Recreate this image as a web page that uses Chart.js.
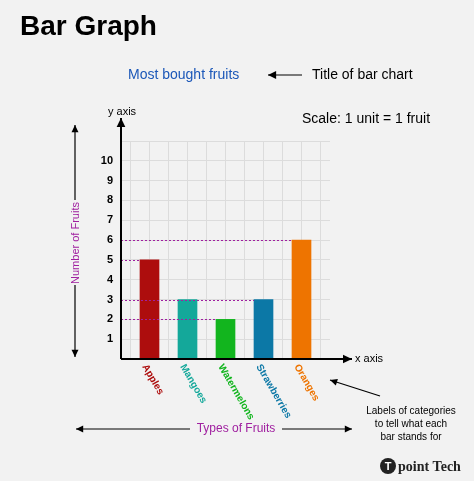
<!DOCTYPE html>
<html><head><meta charset="utf-8">
<script src="https://cdn.jsdelivr.net/npm/chart.js@4"></script>
<style>body{margin:0;background:#f2f2f2}#wrap{width:474px;height:481px;position:relative}</style>
</head><body><div id="wrap"><canvas id="c"></canvas></div>
<script>
const fruits = ['Apples', 'Mangoes', 'Watermelons', 'Strawberries', 'Oranges']
const counts = [5, 3, 2, 3, 6]
const slots = [1.5, 3.5, 5.5, 7.5, 9.5]
const colors = ['#ad0d0d', '#14a89a', '#12b51e', '#0c78a6', '#ee7400']
const yTicks = [1, 2, 3, 4, 5, 6, 7, 8, 9, 10]
const purple = '#a020a0'

function arrow(ctx, x1, y1, x2, y2, s) {
    const a = Math.atan2(y2 - y1, x2 - x1)
    ctx.beginPath(); ctx.moveTo(x1, y1); ctx.lineTo(x2, y2); ctx.stroke()
    ctx.beginPath(); ctx.moveTo(x2, y2)
    ctx.lineTo(x2 - s * Math.cos(a - 0.45), y2 - s * Math.sin(a - 0.45))
    ctx.lineTo(x2 - s * Math.cos(a + 0.45), y2 - s * Math.sin(a + 0.45))
    ctx.closePath(); ctx.fill()
}

const decor = {
    id: 'decor',
    afterDraw(chart) {
        const ctx = chart.ctx, x = chart.scales.x, y = chart.scales.y
        const a = chart.chartArea
        ctx.save()
        // dashed guides
        ctx.strokeStyle = purple; ctx.setLineDash([2, 2]); ctx.lineWidth = 1
        counts.forEach((v, i) => {
            const py = Math.round(y.getPixelForValue(v)) + 0.5
            ctx.beginPath(); ctx.moveTo(a.left, py); ctx.lineTo(x.getPixelForValue(slots[i]) - 9.5, py); ctx.stroke()
        })
        ctx.setLineDash([])
        // axes
        ctx.fillStyle = '#000'; ctx.strokeStyle = '#000'; ctx.lineWidth = 2
        arrow(ctx, a.left, a.bottom, a.left, 118, 10)
        arrow(ctx, a.left, a.bottom, 352, a.bottom, 10)
        ctx.font = 'bold 11px Arial'; ctx.textAlign = 'right'; ctx.textBaseline = 'middle'
        yTicks.forEach(t => ctx.fillText(t, a.left - 8, y.getPixelForValue(t)))
        ctx.textAlign = 'left'
        ctx.font = '11px Arial'
        ctx.fillText('y axis', 108, 112)
        ctx.fillText('x axis', 355, a.bottom)
        // category labels
        ctx.font = 'bold 10px Arial'
        fruits.forEach((f, i) => {
            ctx.save(); ctx.translate(x.getPixelForValue(slots[i]) - 5, a.bottom + 6)
            ctx.rotate(Math.PI / 3); ctx.fillStyle = colors[i]; ctx.fillText(f, 0, 0); ctx.restore()
        })
        // titles
        ctx.fillStyle = '#000'; ctx.font = 'bold 28px Arial'; ctx.textBaseline = 'alphabetic'
        ctx.fillText('Bar Graph', 20, 35)
        ctx.font = '14px Arial'; ctx.textBaseline = 'middle'
        ctx.fillStyle = '#1b57b8'; ctx.fillText('Most bought fruits', 128, 75)
        ctx.fillStyle = '#000'; ctx.fillText('Title of bar chart', 312, 75)
        ctx.fillText('Scale: 1 unit = 1 fruit', 302, 119)
        ctx.lineWidth = 1.2
        arrow(ctx, 302, 75, 268, 75, 9)
        // left side arrow
        arrow(ctx, 75, 200, 75, 125, 8); arrow(ctx, 75, 285, 75, 357, 8)
        ctx.save(); ctx.translate(76, 243); ctx.rotate(-Math.PI / 2)
        ctx.textAlign = 'center'; ctx.fillStyle = purple; ctx.font = '11px Arial'
        ctx.fillText('Number of Fruits', 0, 0); ctx.restore()
        // bottom arrow
        arrow(ctx, 190, 429, 76, 429, 8); arrow(ctx, 282, 429, 352, 429, 8)
        ctx.textAlign = 'center'; ctx.fillStyle = purple; ctx.font = '12px Arial'
        ctx.fillText('Types of Fruits', 236, 429)
        // labels note
        ctx.fillStyle = '#000'; ctx.font = '10px Arial'
        ctx.fillText('Labels of categories', 411, 411)
        ctx.fillText('to tell what each', 411, 424)
        ctx.fillText('bar stands for', 411, 437)
        arrow(ctx, 380, 396, 330, 380, 8)
        // logo
        ctx.beginPath(); ctx.arc(388, 466, 8, 0, Math.PI * 2); ctx.fillStyle = '#222'; ctx.fill()
        ctx.fillStyle = '#fff'; ctx.font = 'bold 11px Arial'; ctx.fillText('T', 388, 467)
        ctx.fillStyle = '#222'; ctx.textAlign = 'left'; ctx.font = 'bold 14px Georgia'
        ctx.fillText('point Tech', 398, 467)
        ctx.restore()
    }
}

new Chart(document.getElementById('c'), {
    type: 'bar',
    data: {
        datasets: [{
            data: counts.map((v, i) => ({ x: slots[i], y: v })),
            backgroundColor: colors,
            barThickness: 19,
            borderWidth: 0
        }]
    },
    options: {
        responsive: true,
        maintainAspectRatio: false,
        animation: false,
        layout: { padding: { left: 121, right: 144, top: 141, bottom: 122 } },
        plugins: { legend: { display: false }, tooltip: { enabled: false } },
        scales: {
            x: {
                type: 'linear', min: 0, max: 11, offset: false,
                ticks: { display: false, stepSize: 1 },
                grid: { color: '#dcdcdc', drawTicks: false },
                border: { display: false }
            },
            y: {
                min: 0, max: 11,
                ticks: { display: false, stepSize: 1 },
                grid: { color: '#dcdcdc', drawTicks: false },
                border: { display: false }
            }
        }
    },
    plugins: [decor]
})
</script>
</body></html>
